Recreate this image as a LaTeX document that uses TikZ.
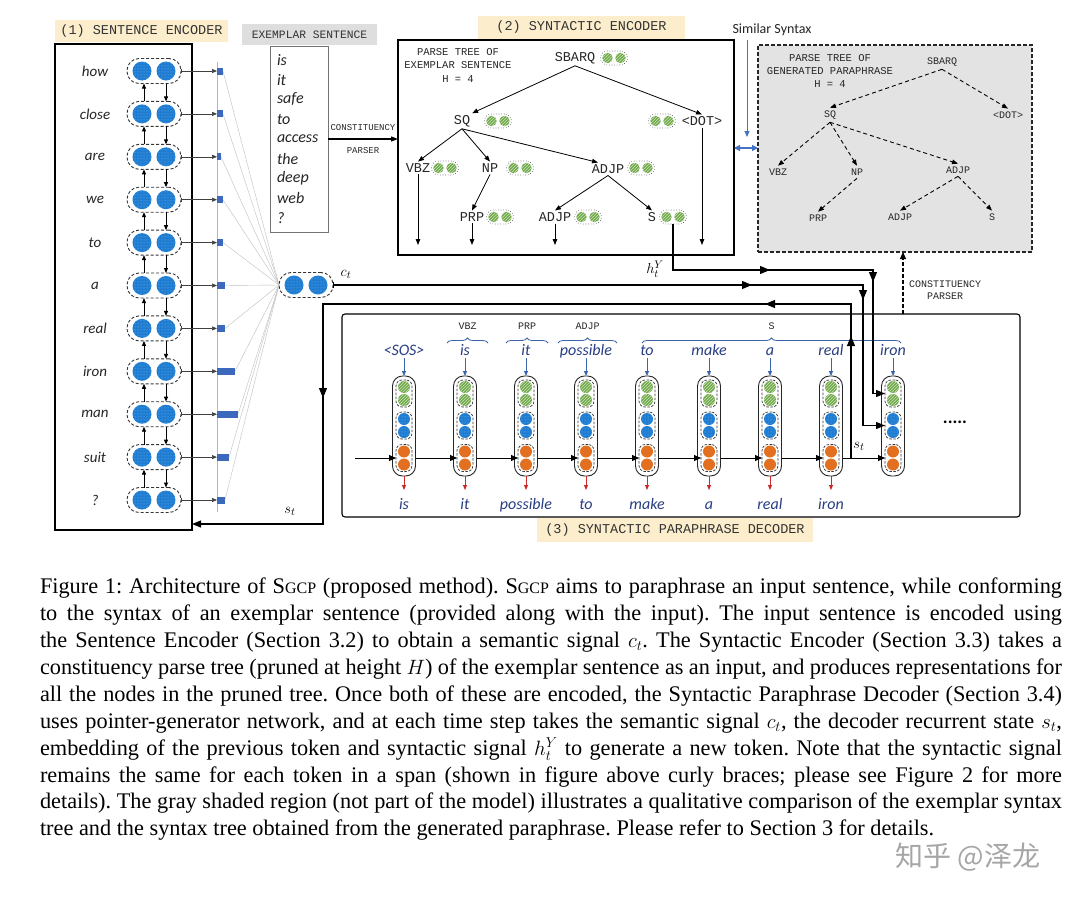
\documentclass[tikz,border=0pt]{standalone}
\usepackage{fontspec}
\setmainfont{Liberation Serif}
\newfontfamily\calf{Carlito}
\newfontfamily\monof{Liberation Mono}
\newfontfamily\cjkf{Noto Sans CJK SC}
\usetikzlibrary{patterns,arrows.meta,decorations.markings,decorations.pathreplacing,calc}
\definecolor{encblue}{RGB}{30,125,210}
\definecolor{barblue}{RGB}{60,105,190}
\definecolor{lineblue}{RGB}{160,185,230}
\definecolor{hgreen}{RGB}{112,170,72}
\definecolor{dorange}{RGB}{226,112,32}
\definecolor{navy}{RGB}{40,62,130}
\definecolor{labyel}{RGB}{252,238,204}
\definecolor{inblue}{RGB}{60,100,170}
\definecolor{outred}{RGB}{205,40,40}
\definecolor{simblue}{RGB}{68,114,196}
\newcommand\bdot[3]{\fill[encblue] (#1,#2) circle (#3);\fill[pattern=dots,pattern color=white!45!encblue] (#1,#2) circle (#3);}
\newcommand\gdot[3]{\fill[hgreen] (#1,#2) circle (#3);\fill[pattern=north east lines,pattern color=white!65!hgreen] (#1,#2) circle (#3);}
\newcommand\ordot[3]{\fill[dorange] (#1,#2) circle (#3);}
\newcommand\gpair[3]{\node[gpairn] (#1) at (#2,#3) {};\gdot{#2-6.5}{#3}{5.2}\gdot{#2+6.5}{#3}{5.2}}
\frenchspacing
\begin{document}
\begin{tikzpicture}[x=1pt,y=-1pt,
  every node/.style={inner sep=0pt, outer sep=0pt},
  ylab/.style={fill=labyel, text=black!80, font=\monof\fontsize{13.5}{14}\selectfont, anchor=north west},
  capsule/.style={draw=black!80, dash pattern=on 3pt off 2pt, rounded corners=12pt, minimum width=54pt, minimum height=25pt, line width=0.9pt},
  bar/.style={fill=barblue, minimum height=7pt, anchor=west},
  encword/.style={font=\calf\itshape\fontsize{15}{15}\selectfont, text=black!85},
  exword/.style={font=\calf\itshape\fontsize{16}{16}\selectfont, anchor=west, text=black!85},
  decword/.style={font=\calf\itshape\fontsize{16}{16}\selectfont, text=navy, text height=10pt, text depth=2pt, inner sep=1pt},
  treef/.style={font=\monof\fontsize{13.5}{14}\selectfont, text=black!85, inner sep=2pt},
  gtreef/.style={font=\monof\fontsize{10}{11}\selectfont, text=black!85, inner sep=3pt},
  gpairn/.style={draw=black!70, dotted, line width=0.6pt, rounded corners=7pt, minimum width=27pt, minimum height=14pt},
  grp/.style={draw=black!80, dash pattern=on 2.5pt off 1.5pt, rounded corners=6pt, minimum width=16pt, minimum height=27pt, line width=0.7pt},
  cell/.style={draw=black!85, line width=0.9pt, rounded corners=10pt, minimum width=23pt, minimum height=100pt},
  smallarr/.style={-{Triangle[length=5pt,width=4pt]}, line width=0.9pt},
  tailarr/.style={{Bar[width=4pt]}-{Triangle[length=5pt,width=4pt]}, line width=0.6pt, black!75},
  tarr/.style={-{Triangle[length=6pt,width=4.5pt]}, line width=0.8pt},
  gtarr/.style={-{Triangle[length=6pt,width=4.5pt]}, line width=0.9pt, dash pattern=on 4pt off 3pt},
  bigline/.style={line width=1.1pt},
  bigtip/.style={-{Triangle[length=9pt,width=7pt]}},
  gline/.style={black!25, line width=0.4pt},
  monos/.style={font=\monof\fontsize{10}{12}\selectfont, text=black!85},
  brc/.style={decorate, decoration={brace, amplitude=5pt}, inblue, line width=0.8pt}
]
\fill[white] (0,0) rectangle (1080,903);
\useasboundingbox (0,0) rectangle (1080,903);

% ---------------- (1) sentence encoder
\node[ylab, minimum width=173pt, minimum height=22pt] (lab1) at (55,20) {(1) SENTENCE ENCODER};
\node[draw, line width=1.1pt, minimum width=137pt, minimum height=486pt, anchor=north west] (senc) at (55,44) {};
\draw[lineblue, line width=0.8pt] (217,62) -- (217,512);
\foreach \w/\bw [count=\i from 0] in {how/6,close/6,are/4,we/6,to/6,a/8,real/8,iron/18,man/21,suit/12,?/8}{
  \pgfmathsetmacro\yy{71+42.9*\i}
  \node[encword] (w\i) at (95,\yy) {\w};
  \node[capsule] (e\i) at (154,\yy) {};
  \bdot{142}{\yy}{9.5}
  \bdot{166}{\yy}{9.5}
  \node[bar, minimum width=\bw pt] (b\i) at (217,\yy) {};
  \draw[tailarr] (e\i.east) -- (b\i.west);
}
\foreach \i in {1,...,10}{
  \pgfmathtruncatemacro\j{\i-1}
  \draw[smallarr] ($(e\i.north)+(-10,0)$) -- ($(e\j.south)+(-10,0)$);
  \draw[smallarr] ($(e\j.south)+(12,0)$) -- ($(e\i.north)+(12,0)$);
}
% c_t
\node[capsule] (ct) at (306,285) {};
\bdot{294}{285}{9.5}
\bdot{318}{285}{9.5}
\foreach \i in {0,...,10}{\draw[gline] (b\i.east) -- (ct.west);}
\node[font=\fontsize{15}{15}\selectfont] (ctl) at (346,274) {$c_t$};

% ---------------- exemplar sentence
\node[fill=black!13, minimum width=135pt, minimum height=21pt, anchor=north west, font=\monof\fontsize{11.3}{12}\selectfont, text=black!80] (exlab) at (242,24) {EXEMPLAR SENTENCE};
\node[draw=black!55, line width=0.7pt, fill=white, minimum width=58pt, minimum height=186pt, anchor=north west] (exbox) at (270,46) {};
\foreach \w [count=\i from 0] in {is,it,safe,to,access,the,deep,web,?}{
  \pgfmathsetmacro\yy{60+19.7*\i}
  \node[exword] (x\i) at (277,\yy) {\w};
}

% ---------------- (2) syntactic encoder
\node[ylab, minimum width=207pt, minimum height=23pt] (lab2) at (478,16) {(2) SYNTACTIC ENCODER};
\node[draw, line width=1.1pt, minimum width=336pt, minimum height=215pt, anchor=north west] (synbox) at (398,40) {};
\draw[bigline, -{Triangle[length=7pt,width=5pt]}] (exbox.east) -- (exbox.east -| synbox.west);
\node[font=\monof\fontsize{9}{10}\selectfont, text=black!85] (cp1a) at (363,128) {CONSTITUENCY};
\node[font=\monof\fontsize{9}{10}\selectfont, text=black!85] (cp1b) at (363,151) {PARSER};
\node[align=center, font=\monof\fontsize{10.5}{13.5}\selectfont, text=black!85] (t1) at (458,65) {PARSE TREE OF\\EXEMPLAR SENTENCE\\H = 4};

\node[treef] (sbarq) at (575,58) {SBARQ}; \gpair{psbarq}{614}{58}
\node[treef] (sq) at (462,121) {SQ}; \gpair{psq}{498}{121}
\node[treef] (dot) at (702,121) {<DOT>}; \gpair{pdot}{662}{121}
\node[treef] (vbz) at (418,168) {VBZ}; \gpair{pvbz}{445}{168}
\node[treef] (np) at (490,168) {NP}; \gpair{pnp}{520}{168}
\node[treef] (adjp) at (608,169) {ADJP}; \gpair{padjp}{641}{168}
\node[treef] (prp) at (472,217) {PRP}; \gpair{pprp}{500}{217}
\node[treef] (adjpb) at (555,217) {ADJP}; \gpair{padjpb}{588}{217}
\node[treef] (s) at (652,217) {S}; \gpair{ps}{673}{217}
\draw[tarr] (sbarq.south) -- (sq.north east);
\draw[tarr] (sbarq.south) -- (dot.north);
\draw[tarr] (sq.south) -- (vbz.north);
\draw[tarr] (sq.south) -- (np.north);
\draw[tarr] (sq.south) -- ($(adjp.north)+(-10,0)$);
\draw[tarr] (np.south) -- (prp.north);
\draw[tarr] (adjp.south) -- (adjpb.north);
\draw[tarr] (adjp.south) -- (s.north);
\coordinate (bot) at (0,245);
\draw[tarr] (vbz.south) -- (vbz.south |- bot);
\draw[tarr] (prp.south) -- (prp.south |- bot);
\draw[tarr] (adjpb.south) -- (adjpb.south |- bot);
\draw[tarr] (dot.south) -- (dot.south |- bot);

% ---------------- similar syntax / generated tree
\node[font=\calf\fontsize{14}{14}\selectfont, text=black!85] (sim) at (772,30) {Similar Syntax};
\node[draw=black!85, dash pattern=on 4pt off 2pt, line width=1.1pt, fill=black!11, minimum width=274pt, minimum height=207pt, anchor=north west] (gbox) at (758,45) {};
\coordinate (simtop) at (747,40);
\coordinate (simbot) at (747,137);
\draw[simblue, line width=1pt, -{Triangle[length=6pt,width=5pt]}] (simtop) -- (simbot);
\draw[simblue, line width=1.2pt, {Triangle[length=6pt,width=6pt]}-{Triangle[length=6pt,width=6pt]}] (synbox.east |- 0,148) -- (gbox.west |- 0,148);
\node[align=center, font=\monof\fontsize{10.5}{13}\selectfont, text=black!85] (t2) at (830,71) {PARSE TREE OF\\GENERATED PARAPHRASE\\H = 4};
\node[gtreef] (gsbarq) at (942,62) {SBARQ};
\node[gtreef] (gsq) at (830,115) {SQ};
\node[gtreef] (gdot) at (1008,115) {<DOT>};
\node[gtreef] (gvbz) at (778,172) {VBZ};
\node[gtreef] (gnp) at (857,172) {NP};
\node[gtreef] (gadjp) at (958,170) {ADJP};
\node[gtreef] (gprp) at (818,218) {PRP};
\node[gtreef] (gadjpb) at (900,217) {ADJP};
\node[gtreef] (gs) at (992,217) {S};
\draw[gtarr] (gsbarq.south) -- (gsq.north);
\draw[gtarr] (gsbarq.south) -- (gdot.north);
\draw[gtarr] (gsq.south) -- (gvbz.north);
\draw[gtarr] (gsq.south) -- (gnp.north);
\draw[gtarr] (gsq.south) -- (gadjp.north);
\draw[gtarr] (gnp.south) -- (gprp.north);
\draw[gtarr] (gadjp.south) -- (gadjpb.north);
\draw[gtarr] (gadjp.south) -- (gs.north);

% ---------------- (3) decoder
\node[draw, line width=1.1pt, rounded corners=3pt, minimum width=678pt, minimum height=203pt, anchor=north west] (dec) at (342,314) {};
\node[ylab, minimum width=276pt, minimum height=24pt] (lab3) at (537,518) {(3) SYNTACTIC PARAPHRASE DECODER};
\draw[bigline, dash pattern=on 4pt off 2pt, -{Triangle[length=7pt,width=6pt]}] (dec.north -| 903,0) -- (gbox.south -| 903,0);
\node[align=center, font=\monof\fontsize{10}{12}\selectfont, text=black!85] (cp2) at (945,290) {CONSTITUENCY\\PARSER};

\foreach \x/\inw [count=\i from 0] in {404/<SOS>,465/is,526/it,586/possible,647/to,709/make,770/a,831/real,893/iron}{
  \node[cell] (c\i) at (\x,426) {};
  \node[grp] (g\i) at (\x,393.5) {};
  \node[grp] (bl\i) at (\x,425.5) {};
  \node[grp] (o\i) at (\x,458) {};
  \gdot{\x}{387}{6}
  \gdot{\x}{400}{6}
  \bdot{\x}{419}{6}
  \bdot{\x}{432}{6}
  \ordot{\x}{451.5}{6}
  \ordot{\x}{464.5}{6}
  \node[decword] (in\i) at (\x,351) {\inw};
  \draw[inblue, line width=0.9pt, -{Triangle[length=5pt,width=4pt]}] (in\i.south) -- (c\i.north);
}
\foreach \x/\ow [count=\i from 0] in {404/is,465/it,526/possible,586/to,647/make,709/a,770/real,831/iron}{
  \coordinate (oe\i) at (\x,490);
  \draw[outred, line width=0.9pt, -{Triangle[length=5pt,width=4pt]}] (c\i.south) -- (oe\i);
  \node[decword] (out\i) at (\x,505) {\ow};
}
\coordinate (rstart) at (355,458);
\draw[line width=0.9pt, -{Triangle[length=7pt,width=6pt]}] (rstart) -- (o0.west);
\foreach \i in {0,...,7}{
  \pgfmathtruncatemacro\j{\i+1}
  \draw[line width=0.9pt, -{Triangle[length=7pt,width=6pt]}] (c\i.east |- o\i.center) -- (o\j.west);
}
\node[font=\fontsize{15}{15}\selectfont] (stl) at (859,446) {$s_t$};
\node[font=\calf\bfseries\fontsize{18}{18}\selectfont] (more) at (955,422) {.....};

% braces and span labels
\draw[brc] (447,343) -- (488,343);
\draw[brc] (506,343) -- (548,343);
\draw[brc] (558,343) -- (617,343);
\draw[brc] (642,343) -- (901,343);
\node[monos] (sp1) at (467.5,326) {VBZ};
\node[monos] (sp2) at (527,326) {PRP};
\node[monos] (sp3) at (587.5,326) {ADJP};
\node[monos] (sp4) at (771.5,326) {S};

% ---------------- long connectors
\coordinate (hc1) at (673,270);
\coordinate (hc2) at (873,270);
\draw[bigline, bigtip, postaction={decorate}, decoration={markings,
   mark=at position 143pt with {\arrow{Triangle[length=10pt,width=8pt]}},
   mark=at position 258pt with {\arrow{Triangle[length=10pt,width=8pt]}}}]
   (ps.south) -- (hc1) -- (hc2) -- (hc2 |- g8.west) -- (g8.west);
\node[font=\fontsize{15}{15}\selectfont] (hl) at (655,269) {$h_t^Y$};

\coordinate (cc1) at (863,285);
\draw[bigline, {Bar[width=6pt]}-{Triangle[length=9pt,width=7pt]}, postaction={decorate}, decoration={markings,
   mark=at position 419pt with {\arrow{Triangle[length=10pt,width=8pt]}},
   mark=at position 545pt with {\arrow{Triangle[length=10pt,width=8pt]}}}]
   (ct.east) -- (cc1) -- (cc1 |- bl8.west) -- (bl8.west);

\coordinate (sfb) at (851,458);
\coordinate (st1) at (851,304);
\coordinate (st2) at (323,304);
\coordinate (st3) at (323,524);
\draw[bigline, bigtip, postaction={decorate}, decoration={markings,
   mark=at position 122pt with {\arrow{Triangle[length=10pt,width=8pt]}},
   mark=at position 240pt with {\arrow{Triangle[length=10pt,width=8pt]}},
   mark=at position 776pt with {\arrow{Triangle[length=10pt,width=8pt]}}}]
   (sfb) -- (st1) -- (st2) -- (st3) -- (st3 -| senc.east);
\node[font=\fontsize{15}{15}\selectfont] (stl2) at (290,511) {$s_t$};

% ---------------- caption
\node[anchor=north west, align=left, font=\fontsize{22.3}{26.9}\selectfont] (cap) at (40,578) {%
\hbox to 1022pt{Figure 1: Architecture of S{\fontsize{16}{15}\selectfont GCP} (proposed method). S{\fontsize{16}{15}\selectfont GCP} aims to paraphrase an input sentence, while conforming}\\
\hbox to 1022pt{to the syntax of an exemplar sentence (provided along with the input). The input sentence is encoded using}\\
\hbox to 1022pt{the Sentence Encoder (Section 3.2) to obtain a semantic signal $c_t$. The Syntactic Encoder (Section 3.3) takes a}\\
\hbox to 1022pt{constituency parse tree (pruned at height $H$) of the exemplar sentence as an input, and produces representations for}\\
\hbox to 1022pt{all the nodes in the pruned tree. Once both of these are encoded, the Syntactic Paraphrase Decoder (Section 3.4)}\\
\hbox to 1022pt{uses pointer-generator network, and at each time step takes the semantic signal $c_t$, the decoder recurrent state $s_t$,}\\
\hbox to 1022pt{embedding of the previous token and syntactic signal $h_t^Y$ to generate a new token. Note that the syntactic signal}\\
\hbox to 1022pt{remains the same for each token in a span (shown in figure above curly braces; please see Figure 2 for more}\\
\hbox to 1022pt{details). The gray shaded region (not part of the model) illustrates a qualitative comparison of the exemplar syntax}\\
\hbox{tree and the syntax tree obtained from the generated paraphrase. Please refer to Section 3 for details.}};
\node[font=\cjkf\fontsize{28}{28}\selectfont, text=black!35] (wm) at (968,857) {知乎 @泽龙};
\end{tikzpicture}
\end{document}
